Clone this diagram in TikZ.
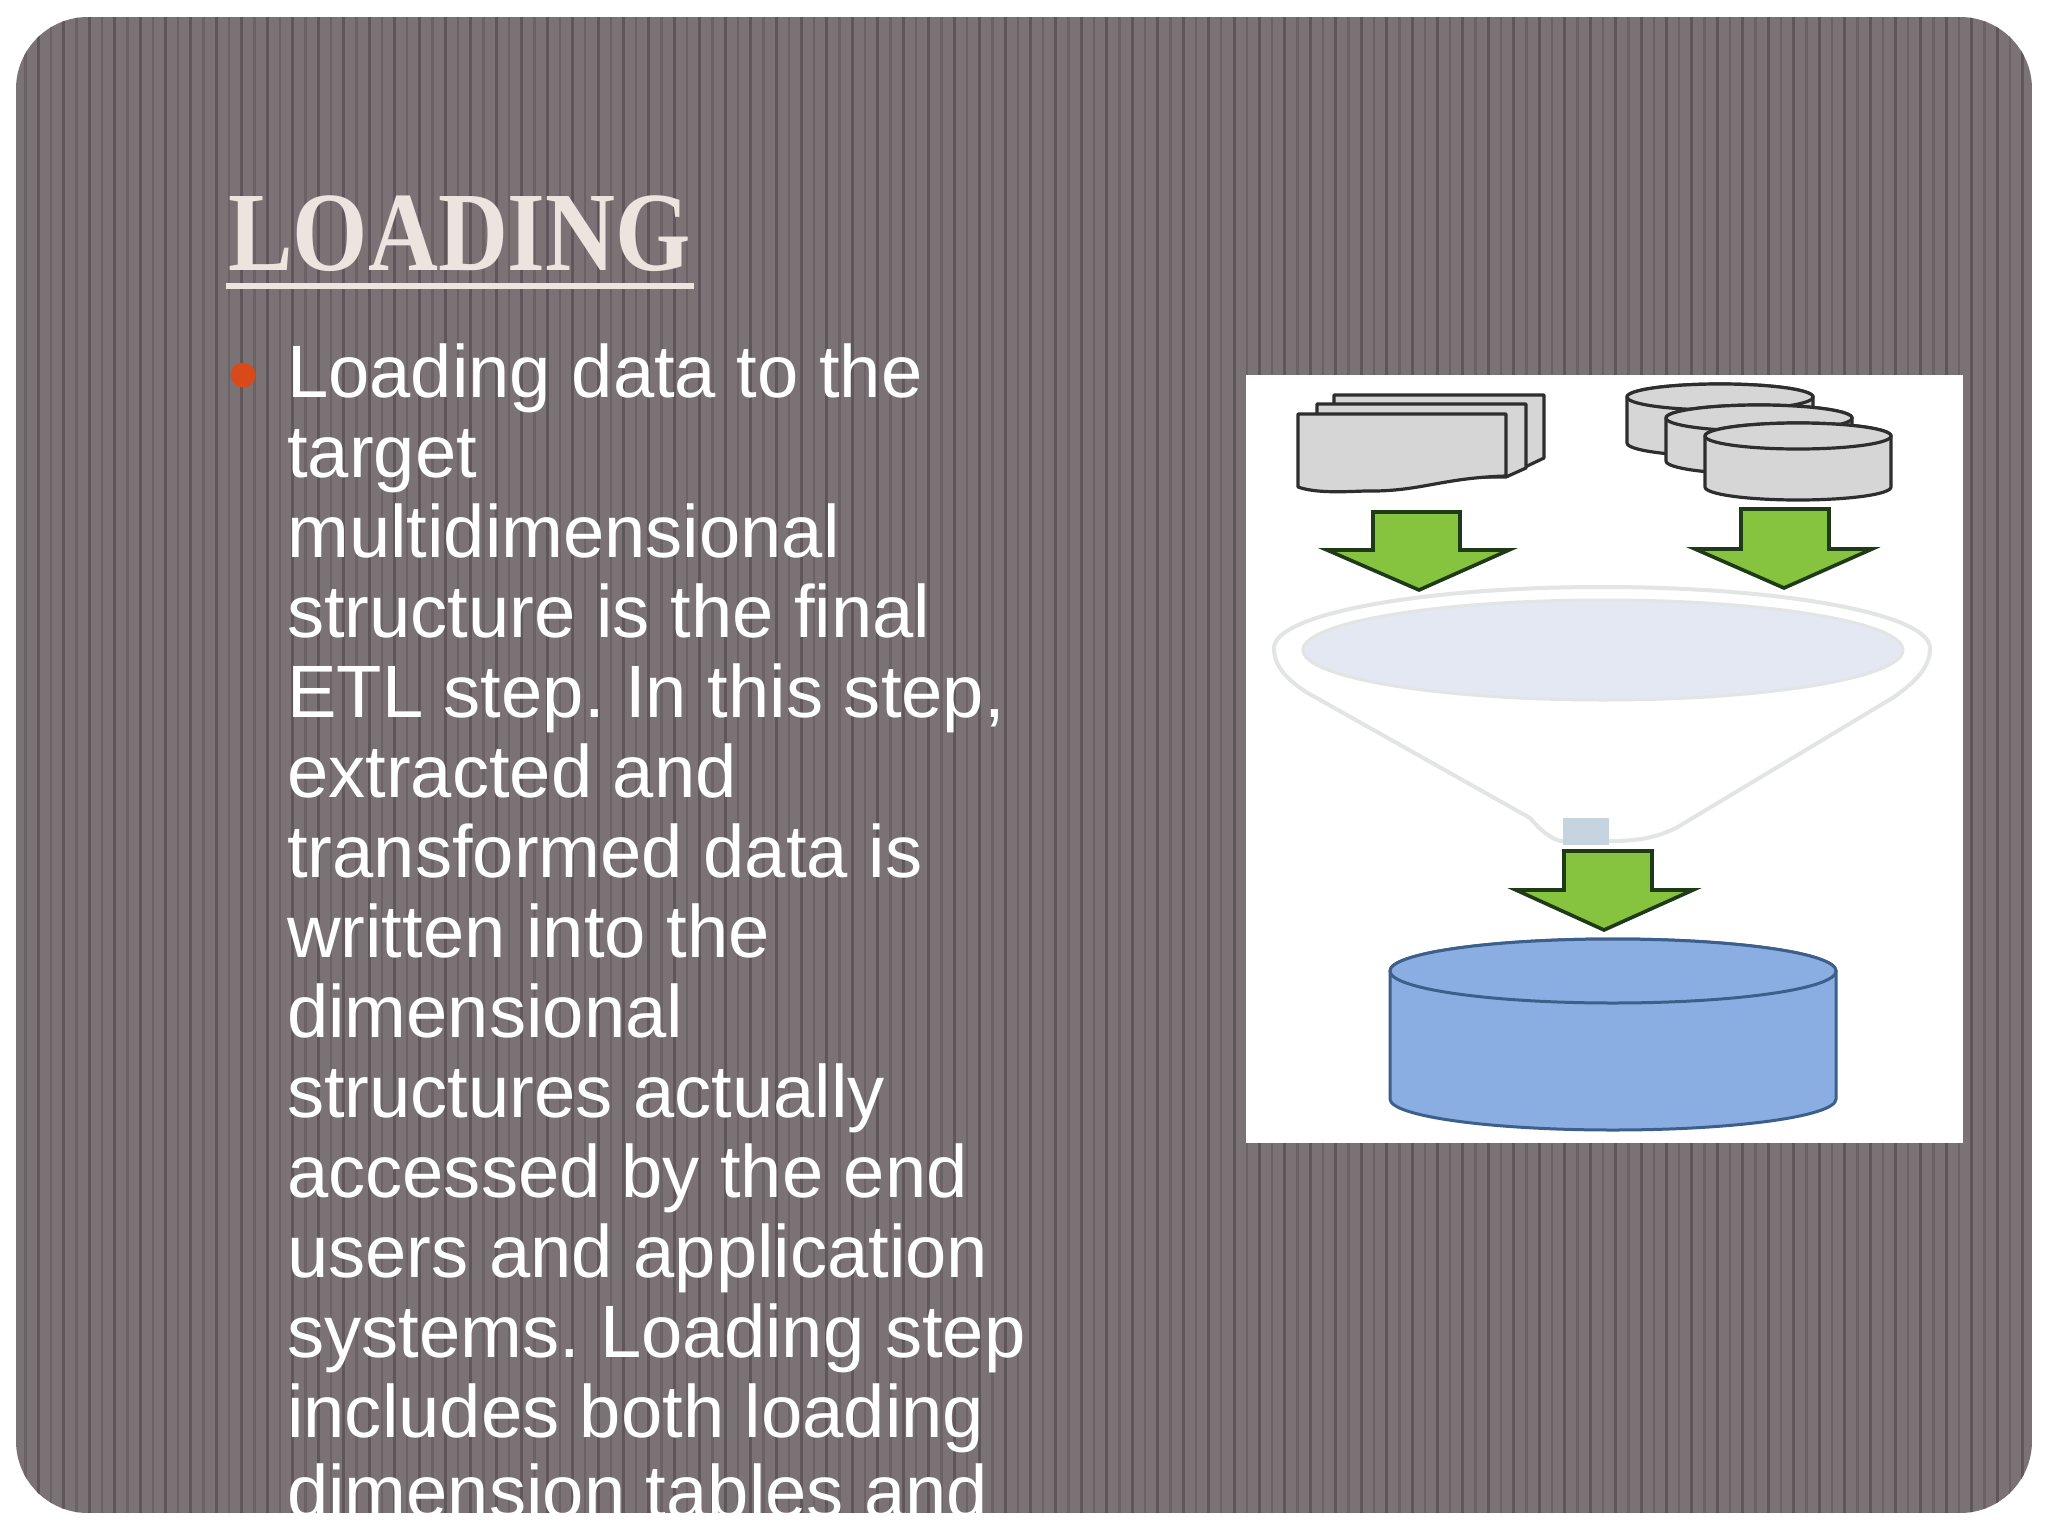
\documentclass[tikz,border=0pt]{standalone}
\usepackage{fontspec}
\setmainfont{Liberation Sans}
\newfontfamily\titlefont{Liberation Serif}[BoldFont={Liberation Serif Bold}]
\definecolor{slidebase}{HTML}{7B7276}
\definecolor{stripedark}{HTML}{5E565A}
\definecolor{stripelight}{HTML}{6B6266}
\definecolor{titlecream}{HTML}{EBE4DF}
\definecolor{bulletred}{HTML}{D9491A}
\definecolor{sheetgrey}{HTML}{D6D6D6}
\definecolor{inkgrey}{HTML}{2E2E2E}
\definecolor{arrowgreen}{HTML}{86C440}
\definecolor{arrowink}{HTML}{1F3A16}
\definecolor{funnelline}{HTML}{E2E5E4}
\definecolor{funnelfill}{HTML}{E3E8F2}
\definecolor{neckblue}{HTML}{C6D4E0}
\definecolor{drumblue}{HTML}{8BAEE2}
\definecolor{druminkblue}{HTML}{3C5F8C}
\tikzset{
  sheet/.style={draw=inkgrey,fill=sheetgrey,line width=3.2pt,line join=round},
  greenarrow/.style={draw=arrowink,fill=arrowgreen,line width=3.6pt,line join=miter},
  funnelstroke/.style={draw=funnelline,line width=4pt},
  drum/.style={draw=druminkblue,fill=drumblue,line width=3pt},
}
\begin{document}
\begin{tikzpicture}[x=1pt,y=-1pt]
\useasboundingbox (0,0) rectangle (2048,1536);
\fill[white] (0,0) rectangle (2048,1536);
\begin{scope}
  \clip[rounded corners=72pt] (16,17) rectangle (2032,1513);
  \fill[slidebase] (16,17) rectangle (2032,1513);
  \foreach \i in {0,...,158}{
    \pgfmathsetmacro{\xx}{25.6+12.72*\i}
    \pgfmathparse{int(mod(\i,2))}
    \ifnum\pgfmathresult=1
      \draw[stripedark,line width=3pt] (\xx,17) -- (\xx,1513);
    \else
      \draw[stripelight,line width=2.4pt] (\xx,17) -- (\xx,1513);
    \fi
  }
  \node[anchor=north west,inner sep=0pt,align=left,text=white,
        font=\fontsize{74.2}{80}\selectfont] (body) at (287,344)
  {Loading data to the\\target\\multidimensional\\structure is the final\\ETL step.\ In this step,\\extracted and\\transformed data is\\written into the\\dimensional\\structures actually\\accessed by the end\\users and application\\systems.\ Loading step\\includes both loading\\dimension tables and};
\end{scope}

% title
\node[anchor=base west,inner sep=0pt,text=titlecream] (title) at (228,270)
  {\scalebox{0.857}[1]{\titlefont\bfseries\fontsize{113}{113}\selectfont LOADING}};
\fill[titlecream] (226,283) rectangle (694,289);
\fill[bulletred] (243,375) circle (12.5);

% picture
\fill[white] (1246,375) rectangle (1963,1143);

% stacked sheets
\path[sheet] (1334,395) -- (1544,395) -- (1544,458) -- (1523,468) -- (1334,468) -- cycle;
\path[sheet] (1317,404) -- (1526,404) -- (1526,468) -- (1506,477) -- (1317,477) -- cycle;
\path[sheet] (1298,414) -- (1506,414) -- (1506,476)
  .. controls (1440,478) and (1420,492) .. (1365,491)
  .. controls (1340,492) and (1315,493) .. (1298,487) -- cycle;

% stacked cylinders
\foreach \cx/\cy/\by in {1720/397/443, 1759/418/461, 1798/436/487}{
  \path[sheet] (\cx-93,\cy) arc[start angle=180,end angle=360,x radius=93,y radius=13]
     -- (\cx+93,\by) arc[start angle=0,end angle=180,x radius=93,y radius=13] -- cycle;
  \path[sheet] (\cx,\cy) ellipse[x radius=93,y radius=13];
}

% funnel
\draw[funnelstroke,fill=white] (1274,648)
  arc[start angle=180,end angle=360,x radius=328,y radius=61]
  .. controls (1930,668) and (1915,682) .. (1894,697)
  -- (1676,828)
  .. controls (1655,838) and (1640,840) .. (1618,841)
  -- (1560,841)
  .. controls (1550,838) and (1540,830) .. (1530,818)
  -- (1306,692)
  .. controls (1285,678) and (1274,665) .. (1274,648) -- cycle;
\path[draw=funnelline,line width=3pt,fill=funnelfill] (1603,650) ellipse[x radius=300,y radius=50];
\fill[neckblue] (1563,818) rectangle (1609,845);

% green arrows
\path[greenarrow] (1373,512) -- (1460,512) -- (1460,550) -- (1509,550) -- (1419,590) -- (1327,550) -- (1373,550) -- cycle;
\path[greenarrow] (1741,509) -- (1829,509) -- (1829,549) -- (1872,549) -- (1784,588) -- (1695,549) -- (1741,549) -- cycle;
\path[greenarrow] (1564,851) -- (1652,851) -- (1652,890) -- (1693,890) -- (1604,930) -- (1516,890) -- (1564,890) -- cycle;

% target drum
\path[drum] (1390,971) arc[start angle=180,end angle=360,x radius=223,y radius=32]
   -- (1836,1099) arc[start angle=0,end angle=180,x radius=223,y radius=31] -- cycle;
\path[drum] (1613,971) ellipse[x radius=223,y radius=32];
\end{tikzpicture}
\end{document}
